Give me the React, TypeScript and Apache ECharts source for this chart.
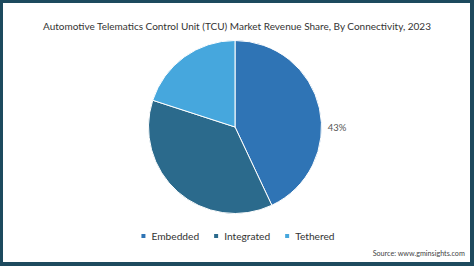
import React, { useEffect, useRef } from "react";
import * as echarts from "echarts";

const titleText = "Automotive Telematics Control Unit (TCU) Market Revenue Share, By Connectivity, 2023";
const categories = ["Embedded", "Integrated", "Tethered"];
const shares = [43, 37, 20];
const colors = ["#2f74b5", "#2b6a8c", "#46a7dd"];
const labelShown = [true, false, false];
const sourceText = "Source: www.gminsights.com";

export default function App() {
  const ref = useRef<HTMLDivElement>(null);
  useEffect(() => {
    if (!ref.current) return;
    const chart = echarts.init(ref.current, null, { renderer: "svg" });
    const font = "Lato, 'Open Sans', sans-serif";
    chart.setOption({
      animation: false,
      backgroundColor: "#ffffff",
      textStyle: { fontFamily: font },
      title: {
        text: titleText,
        left: "center",
        top: 16,
        textStyle: { fontSize: 10, fontWeight: "normal", color: "#333333", fontFamily: font },
      },
      legend: {
        bottom: 20,
        left: "center",
        icon: "rect",
        itemWidth: 6,
        itemHeight: 6,
        itemGap: 13,
        textStyle: { fontSize: 10.2, color: "#333333", fontFamily: font },
        data: categories,
      },
      graphic: [
        { type: "rect", z: -10, shape: { x: 0, y: 0, width: 474, height: 266 }, style: { fill: "#1d4a5e" } },
        { type: "rect", z: -9, shape: { x: 3, y: 3, width: 467, height: 259 }, style: { fill: "#ffffff" } },
        {
          type: "text",
          right: 9,
          top: 250,
          style: { text: sourceText, fontSize: 7.2, fill: "#444444", fontFamily: font },
        },
      ],
      series: [
        {
          type: "pie",
          center: [235, 127],
          radius: 86.5,
          startAngle: 90,
          clockwise: true,
          itemStyle: { borderColor: "#ffffff", borderWidth: 1 },
          labelLine: { show: false },
          labelLayout: { x: 337, y: 127, align: "center", verticalAlign: "middle" },
          data: categories.map((name, i) => ({
            name,
            value: shares[i],
            itemStyle: { color: colors[i] },
            label: {
              show: labelShown[i],
              position: "outside",
              formatter: "{c}%",
              fontSize: 9.5,
              color: "#555555",
              fontFamily: font,
            },
          })),
        },
      ],
    });
    return () => chart.dispose();
  }, []);
  return <div ref={ref} style={{ position: "fixed", left: 0, top: 0, width: 474, height: 266 }} />;
}
